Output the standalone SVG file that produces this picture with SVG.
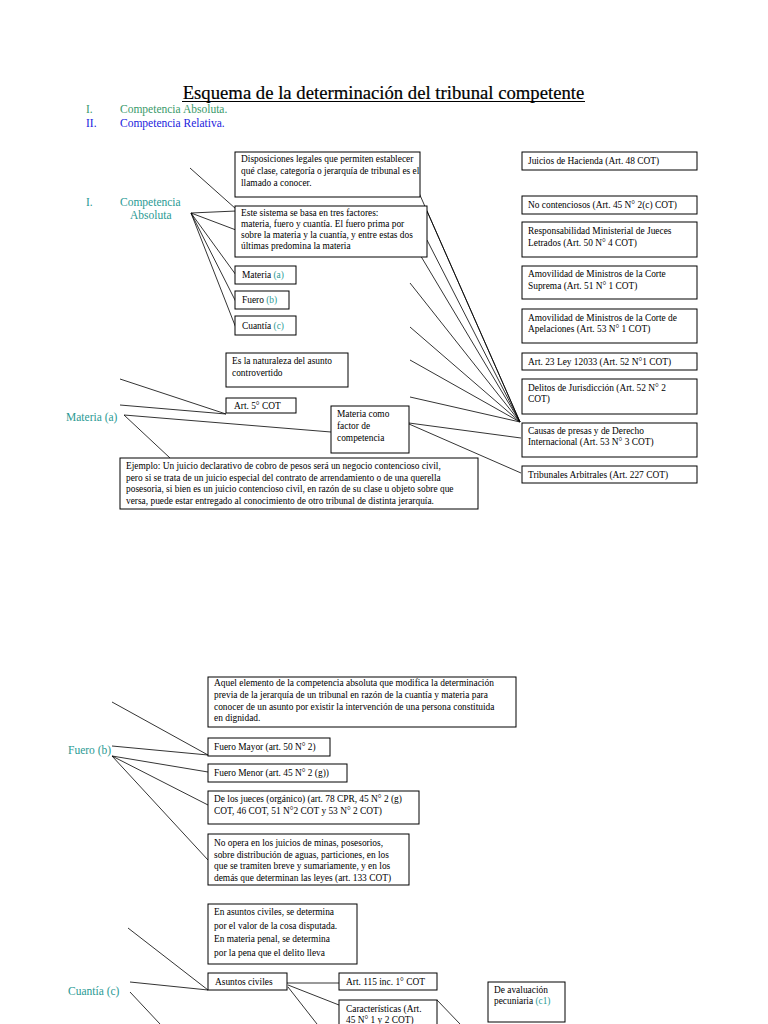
<svg xmlns="http://www.w3.org/2000/svg" width="768" height="1024" viewBox="0 0 768 1024">
<style>
text{font-family:"Liberation Serif","Times New Roman",serif;fill:#000}
.t{font-size:9.4px}
.lbl{font-size:11.5px;fill:#2a9a94}
.tl{fill:#2a9a94}
rect{fill:#fff;stroke:#000;stroke-width:1}
#connectors line{stroke:#000;stroke-width:0.8}
</style>
<rect x="0" y="0" width="768" height="1024" style="stroke:none"/>
<g id="title">
<text x="383.5" y="99" text-anchor="middle" font-size="18.7" style="stroke:#000;stroke-width:0.2">Esquema de la determinación del tribunal competente</text>
<line x1="182" y1="101.5" x2="585" y2="101.5" stroke="#000" stroke-width="1"/>
<text x="86" y="113" font-size="11.5" style="fill:#3a9a6a">I.</text>
<text x="120" y="113" font-size="11.5" style="fill:#3a9a6a">Competencia Absoluta.</text>
<text x="86" y="127" font-size="11.5" style="fill:#2222dd">II.</text>
<text x="120" y="127" font-size="11.5" style="fill:#2222dd">Competencia Relativa.</text>
</g>

<g id="connectors">
<!-- Competencia Absoluta -->
<line x1="190" y1="168" x2="236" y2="209"/>
<line x1="191" y1="213" x2="236" y2="211"/>
<line x1="191" y1="213" x2="236" y2="230"/>
<line x1="191" y1="213" x2="236" y2="275"/>
<line x1="191" y1="213" x2="236" y2="302"/>
<line x1="191" y1="213" x2="236" y2="328"/>
<!-- fan to Causas de presas -->
<line x1="412" y1="177" x2="520" y2="422"/>
<line x1="427" y1="211" x2="520" y2="422"/>
<line x1="427" y1="240" x2="520" y2="422"/>
<line x1="413" y1="243" x2="520" y2="422"/>
<line x1="410" y1="283" x2="520" y2="422"/>
<line x1="410" y1="327" x2="520" y2="422"/>
<line x1="410" y1="360" x2="520" y2="422"/>
<line x1="410" y1="397" x2="520" y2="422"/>
<line x1="409" y1="423" x2="521" y2="438"/>
<line x1="409" y1="424" x2="521" y2="473"/>
<!-- Materia (a) -->
<line x1="120" y1="379" x2="226" y2="414"/>
<line x1="120" y1="405" x2="226" y2="414"/>
<line x1="124" y1="415" x2="331" y2="432"/>
<line x1="124" y1="415" x2="170" y2="458"/>
<!-- Fuero (b) -->
<line x1="112" y1="702" x2="208" y2="755"/>
<line x1="112" y1="746" x2="208" y2="755"/>
<line x1="112" y1="756" x2="208" y2="772"/>
<line x1="112" y1="756" x2="208" y2="805"/>
<line x1="112" y1="756" x2="208" y2="860"/>
<!-- Cuantía (c) -->
<line x1="128" y1="928" x2="208" y2="990"/>
<line x1="130" y1="982" x2="208" y2="990"/>
<line x1="130" y1="992" x2="160" y2="1024"/>
<line x1="287" y1="983" x2="339" y2="983"/>
<line x1="288" y1="985" x2="339" y2="1005"/>
<line x1="288" y1="987" x2="317" y2="1024"/>
<line x1="437" y1="1000" x2="460" y2="1024"/>
</g>

<g id="comp-absoluta-label">
<text x="86" y="206" font-size="11.5" class="tl">I.</text>
<text x="120" y="206" font-size="11.5" class="tl">Competencia</text>
<text x="130" y="219" font-size="11.5" class="tl">Absoluta</text>
</g>

<g id="n-disposiciones">
<rect x="235" y="152" width="185" height="45"/>
<text class="t" x="241" y="162">Disposiciones legales que permiten establecer</text>
<text class="t" x="241" y="174">qué clase, categoría o jerarquía de tribunal es el</text>
<text class="t" x="241" y="186">llamado a conocer.</text>
</g>
<g id="n-sistema">
<rect x="235" y="206" width="192" height="51"/>
<text class="t" x="241" y="216">Este sistema se basa en tres factores:</text>
<text class="t" x="241" y="227">materia, fuero y cuantía. El fuero prima por</text>
<text class="t" x="241" y="238">sobre la materia y la cuantía, y entre estas dos</text>
<text class="t" x="241" y="249">últimas predomina la materia</text>
</g>
<g id="n-materia">
<rect x="235" y="266" width="61" height="18"/>
<text class="t" x="242" y="278">Materia <tspan class="tl">(a)</tspan></text>
</g>
<g id="n-fuero">
<rect x="235" y="291" width="54" height="18"/>
<text class="t" x="242" y="303">Fuero <tspan class="tl">(b)</tspan></text>
</g>
<g id="n-cuantia">
<rect x="235" y="316" width="61" height="19"/>
<text class="t" x="242" y="329">Cuantía <tspan class="tl">(c)</tspan></text>
</g>

<g id="n-hacienda">
<rect x="522" y="152" width="175" height="18"/>
<text class="t" x="528" y="164">Juicios de Hacienda (Art. 48 COT)</text>
</g>
<g id="n-nocontenciosos">
<rect x="522" y="196" width="175" height="18"/>
<text class="t" x="528" y="208">No contenciosos (Art. 45 N° 2(c) COT)</text>
</g>
<g id="n-responsabilidad">
<rect x="522" y="222" width="175" height="35"/>
<text class="t" x="528" y="234">Responsabilidad Ministerial de Jueces</text>
<text class="t" x="528" y="245.5">Letrados (Art. 50 N° 4 COT)</text>
</g>
<g id="n-amov-cs">
<rect x="522" y="266" width="175" height="33"/>
<text class="t" x="528" y="277">Amovilidad de Ministros de la Corte</text>
<text class="t" x="528" y="289">Suprema (Art. 51 N° 1 COT)</text>
</g>
<g id="n-amov-ca">
<rect x="522" y="309" width="175" height="34"/>
<text class="t" x="528" y="321">Amovilidad de Ministros de la Corte de</text>
<text class="t" x="528" y="332">Apelaciones (Art. 53 N° 1 COT)</text>
</g>
<g id="n-ley12033">
<rect x="522" y="353" width="175" height="17"/>
<text class="t" x="528" y="365">Art. 23 Ley 12033 (Art. 52 N°1 COT)</text>
</g>
<g id="n-delitos">
<rect x="522" y="379" width="175" height="35"/>
<text class="t" x="528" y="391">Delitos de Jurisdicción (Art. 52 N° 2</text>
<text class="t" x="528" y="402">COT)</text>
</g>
<g id="n-presas">
<rect x="522" y="423" width="175" height="34"/>
<text class="t" x="528" y="434">Causas de presas y de Derecho</text>
<text class="t" x="528" y="445">Internacional (Art. 53 N° 3 COT)</text>
</g>
<g id="n-arbitrales">
<rect x="522" y="466" width="175" height="17"/>
<text class="t" x="528" y="478">Tribunales Arbitrales (Art. 227 COT)</text>
</g>

<g id="materia-label">
<text x="66" y="421" class="lbl">Materia (a)</text>
</g>
<g id="n-naturaleza">
<rect x="226" y="353" width="122" height="34"/>
<text class="t" x="232" y="364">Es la naturaleza del asunto</text>
<text class="t" x="232" y="376">controvertido</text>
</g>
<g id="n-art5">
<rect x="226" y="398" width="70" height="15"/>
<text class="t" x="234" y="409">Art. 5° COT</text>
</g>
<g id="n-materia-factor">
<rect x="331" y="406" width="78" height="47"/>
<text class="t" x="337" y="417">Materia como</text>
<text class="t" x="337" y="429">factor de</text>
<text class="t" x="337" y="441">competencia</text>
</g>
<g id="n-ejemplo">
<rect x="120" y="458" width="358" height="51"/>
<text class="t" x="126" y="469">Ejemplo: Un juicio declarativo de cobro de pesos será un negocio contencioso civil,</text>
<text class="t" x="126" y="480.5">pero si se trata de un juicio especial del contrato de arrendamiento o de una querella</text>
<text class="t" x="126" y="492">posesoria, si bien es un juicio contencioso civil, en razón de su clase u objeto sobre que</text>
<text class="t" x="126" y="503.5">versa, puede estar entregado al conocimiento de otro tribunal de distinta jerarquía.</text>
</g>

<g id="fuero-label">
<text x="68" y="754" class="lbl">Fuero (b)</text>
</g>
<g id="n-aquel">
<rect x="208" y="677" width="308" height="50"/>
<text class="t" x="214" y="686">Aquel elemento de la competencia absoluta que modifica la determinación</text>
<text class="t" x="214" y="698">previa de la jerarquía de un tribunal en razón de la cuantía y materia para</text>
<text class="t" x="214" y="710">conocer de un asunto por existir la intervención de una persona constituida</text>
<text class="t" x="214" y="721">en dignidad.</text>
</g>
<g id="n-fuero-mayor">
<rect x="208" y="738" width="122" height="18"/>
<text class="t" x="214" y="750">Fuero Mayor (art. 50 N° 2)</text>
</g>
<g id="n-fuero-menor">
<rect x="208" y="764" width="139" height="18"/>
<text class="t" x="214" y="776">Fuero Menor (art. 45 N° 2 (g))</text>
</g>
<g id="n-jueces">
<rect x="208" y="791" width="211" height="33"/>
<text class="t" x="214" y="802">De los jueces (orgánico) (art. 78 CPR, 45 N° 2 (g)</text>
<text class="t" x="214" y="814">COT, 46 COT, 51 N°2 COT y 53 N° 2 COT)</text>
</g>
<g id="n-noopera">
<rect x="208" y="834" width="201" height="51"/>
<text class="t" x="214" y="846">No opera en los juicios de minas, posesorios,</text>
<text class="t" x="214" y="857.5">sobre distribución de aguas, particiones, en los</text>
<text class="t" x="214" y="869">que se tramiten breve y sumariamente, y en los</text>
<text class="t" x="214" y="880.5">demás que determinan las leyes (art. 133 COT)</text>
</g>

<g id="cuantia-label">
<text x="68" y="995" class="lbl">Cuantía (c)</text>
</g>
<g id="n-civiles-desc">
<rect x="208" y="904" width="149" height="60"/>
<text class="t" x="214" y="915">En asuntos civiles, se determina</text>
<text class="t" x="214" y="928.5">por el valor de la cosa disputada.</text>
<text class="t" x="214" y="942">En materia penal, se determina</text>
<text class="t" x="214" y="955.5">por la pena que el delito lleva</text>
</g>
<g id="n-asuntos-civiles">
<rect x="208" y="973" width="79" height="17"/>
<text class="t" x="215" y="985">Asuntos civiles</text>
</g>
<g id="n-art115">
<rect x="339" y="973" width="98" height="17"/>
<text class="t" x="346" y="985">Art. 115 inc. 1° COT</text>
</g>
<g id="n-caracteristicas">
<rect x="339" y="1000" width="98" height="32"/>
<text class="t" x="346" y="1012">Características (Art.</text>
<text class="t" x="346" y="1023">45 N° 1 y 2 COT)</text>
</g>
<g id="n-pecuniaria">
<rect x="488" y="982" width="77" height="40"/>
<text class="t" x="494" y="993">De avaluación</text>
<text class="t" x="494" y="1004">pecuniaria <tspan class="tl">(c1)</tspan></text>
</g>
</svg>
